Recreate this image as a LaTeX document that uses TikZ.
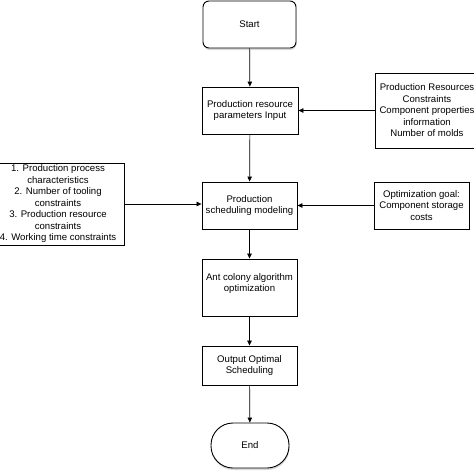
\documentclass[tikz,border=0pt]{standalone}
\usepackage{fontspec}
\setmainfont{Liberation Sans}
\usetikzlibrary{arrows.meta,shadows}
\begin{document}
\begin{tikzpicture}[x=1pt,y=-1pt,
  box/.style={draw=black,line width=0.9pt,align=center,inner sep=2pt,
    font=\fontsize{9.6}{11.5}\selectfont,fill=white},
  conn/.style={line width=0.7pt,-{Triangle[length=5pt,width=4.5pt]}},
  shad/.style={drop shadow={shadow xshift=0.5pt,shadow yshift=-2pt,opacity=0.3}}]
\useasboundingbox (0,0) rectangle (474,474);
\node[box,shad,rounded corners=6pt,minimum width=93pt,minimum height=47pt] (start) at (249.5,24.5) {Start};
\node[box,minimum width=96pt,minimum height=47pt] (input) at (250,110.5) {Production resource\\parameters Input};
\node[box,minimum width=104pt,minimum height=75pt] (res) at (427,110.5) {Production Resources\\Constraints\\Component properties\\information\\Number of molds};
\node[box,minimum width=95pt,minimum height=47pt] (model) at (249.5,205.5) {Production\\scheduling modeling};
\node[box,minimum width=132pt,minimum height=78pt] (left) at (58,204) {1. Production process\\characteristics\\2. Number of tooling\\constraints\\3. Production resource\\constraints\\4. Working time constraints};
\node[box,minimum width=95pt,minimum height=47pt] (opt) at (421.5,205.5) {Optimization goal:\\Component storage\\costs};
\node[box,minimum width=95pt,minimum height=57pt] (ant) at (249.5,287.5) {Ant colony algorithm\\optimization\\[-2pt]};
\node[box,minimum width=95pt,minimum height=39pt] (out) at (249.5,365.5) {Output Optimal\\Scheduling};
\node[box,shad,rounded corners=22pt,minimum width=78pt,minimum height=45pt] (end) at (250,445.5) {End};
\draw[conn] (start) -- (input);
\draw[conn] (input) -- (model);
\draw[conn] (model) -- (ant);
\draw[conn] (ant) -- (out);
\draw[conn] (out) -- (end);
\draw[conn] (res.west) -- (input.east);
\draw[conn] (left.east) -- (left.east -| model.west);
\draw[conn] (opt.west) -- (model.east);
\end{tikzpicture}
\end{document}
